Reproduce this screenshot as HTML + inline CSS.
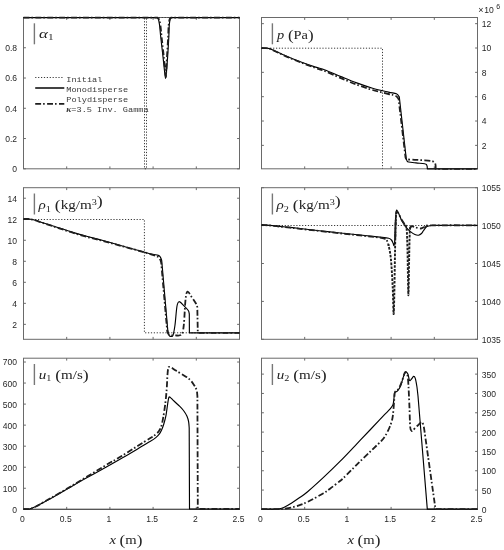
<!DOCTYPE html>
<html><head><meta charset="utf-8"><title>Figure</title><style>
html,body{margin:0;padding:0;background:#fff;}
svg{display:block;}
.tk{font-family:"Liberation Sans",Arial,sans-serif;font-size:9.9px;fill:#262626;}
.lb{font-family:"Liberation Serif","Times New Roman",serif;font-size:12px;fill:#222;}
.sub{font-size:8.4px;}
.par{font-size:14.6px;}
.lg{font-family:"Liberation Mono","Courier New",monospace;font-size:8.6px;fill:#3a3a3a;}
.kap{font-family:"Liberation Serif",serif;font-style:italic;font-weight:bold;font-size:9.5px;}
</style></head>
<body><svg width="504" height="550" viewBox="0 0 504 550">
<rect width="504" height="550" fill="#fff"/>
<rect x="23.5" y="17.5" width="216" height="151.3" fill="none" stroke="#6a6a6a" stroke-width="1"/>
<path d="M23.5 168.8v-2.4 M23.5 17.5v2.4 M66.7 168.8v-2.4 M66.7 17.5v2.4 M109.9 168.8v-2.4 M109.9 17.5v2.4 M153.1 168.8v-2.4 M153.1 17.5v2.4 M196.3 168.8v-2.4 M196.3 17.5v2.4 M239.5 168.8v-2.4 M239.5 17.5v2.4 M23.5 168.8h2.4 M239.5 168.8h-2.4 M23.5 138.54h2.4 M239.5 138.54h-2.4 M23.5 108.28h2.4 M239.5 108.28h-2.4 M23.5 78.02h2.4 M239.5 78.02h-2.4 M23.5 47.76h2.4 M239.5 47.76h-2.4" stroke="#6a6a6a" stroke-width="1" fill="none"/>
<rect x="261.5" y="17.5" width="216" height="151.3" fill="none" stroke="#6a6a6a" stroke-width="1"/>
<path d="M261.5 168.8v-2.4 M261.5 17.5v2.4 M304.7 168.8v-2.4 M304.7 17.5v2.4 M347.9 168.8v-2.4 M347.9 17.5v2.4 M391.1 168.8v-2.4 M391.1 17.5v2.4 M434.3 168.8v-2.4 M434.3 17.5v2.4 M477.5 168.8v-2.4 M477.5 17.5v2.4 M261.5 145.36h2.4 M477.5 145.36h-2.4 M261.5 121.02h2.4 M477.5 121.02h-2.4 M261.5 96.68h2.4 M477.5 96.68h-2.4 M261.5 72.34h2.4 M477.5 72.34h-2.4 M261.5 48h2.4 M477.5 48h-2.4 M261.5 23.66h2.4 M477.5 23.66h-2.4" stroke="#6a6a6a" stroke-width="1" fill="none"/>
<rect x="23.5" y="187.7" width="216" height="151.6" fill="none" stroke="#6a6a6a" stroke-width="1"/>
<path d="M23.5 339.3v-2.4 M23.5 187.7v2.4 M66.7 339.3v-2.4 M66.7 187.7v2.4 M109.9 339.3v-2.4 M109.9 187.7v2.4 M153.1 339.3v-2.4 M153.1 187.7v2.4 M196.3 339.3v-2.4 M196.3 187.7v2.4 M239.5 339.3v-2.4 M239.5 187.7v2.4 M23.5 324.35h2.4 M239.5 324.35h-2.4 M23.5 303.33h2.4 M239.5 303.33h-2.4 M23.5 282.31h2.4 M239.5 282.31h-2.4 M23.5 261.29h2.4 M239.5 261.29h-2.4 M23.5 240.27h2.4 M239.5 240.27h-2.4 M23.5 219.25h2.4 M239.5 219.25h-2.4 M23.5 198.23h2.4 M239.5 198.23h-2.4" stroke="#6a6a6a" stroke-width="1" fill="none"/>
<rect x="261.5" y="187.7" width="216" height="151.6" fill="none" stroke="#6a6a6a" stroke-width="1"/>
<path d="M261.5 339.3v-2.4 M261.5 187.7v2.4 M304.7 339.3v-2.4 M304.7 187.7v2.4 M347.9 339.3v-2.4 M347.9 187.7v2.4 M391.1 339.3v-2.4 M391.1 187.7v2.4 M434.3 339.3v-2.4 M434.3 187.7v2.4 M477.5 339.3v-2.4 M477.5 187.7v2.4 M261.5 339.3h2.4 M477.5 339.3h-2.4 M261.5 301.4h2.4 M477.5 301.4h-2.4 M261.5 263.5h2.4 M477.5 263.5h-2.4 M261.5 225.6h2.4 M477.5 225.6h-2.4 M261.5 187.7h2.4 M477.5 187.7h-2.4" stroke="#6a6a6a" stroke-width="1" fill="none"/>
<rect x="23.5" y="358.2" width="216" height="151.1" fill="none" stroke="#6a6a6a" stroke-width="1"/>
<path d="M23.5 509.3v-2.4 M23.5 358.2v2.4 M66.7 509.3v-2.4 M66.7 358.2v2.4 M109.9 509.3v-2.4 M109.9 358.2v2.4 M153.1 509.3v-2.4 M153.1 358.2v2.4 M196.3 509.3v-2.4 M196.3 358.2v2.4 M239.5 509.3v-2.4 M239.5 358.2v2.4 M23.5 509.3h2.4 M239.5 509.3h-2.4 M23.5 488.26h2.4 M239.5 488.26h-2.4 M23.5 467.22h2.4 M239.5 467.22h-2.4 M23.5 446.18h2.4 M239.5 446.18h-2.4 M23.5 425.14h2.4 M239.5 425.14h-2.4 M23.5 404.1h2.4 M239.5 404.1h-2.4 M23.5 383.06h2.4 M239.5 383.06h-2.4 M23.5 362.02h2.4 M239.5 362.02h-2.4" stroke="#6a6a6a" stroke-width="1" fill="none"/>
<rect x="261.5" y="358.2" width="216" height="151.1" fill="none" stroke="#6a6a6a" stroke-width="1"/>
<path d="M261.5 509.3v-2.4 M261.5 358.2v2.4 M304.7 509.3v-2.4 M304.7 358.2v2.4 M347.9 509.3v-2.4 M347.9 358.2v2.4 M391.1 509.3v-2.4 M391.1 358.2v2.4 M434.3 509.3v-2.4 M434.3 358.2v2.4 M477.5 509.3v-2.4 M477.5 358.2v2.4 M261.5 509.4h2.4 M477.5 509.4h-2.4 M261.5 490.07h2.4 M477.5 490.07h-2.4 M261.5 470.75h2.4 M477.5 470.75h-2.4 M261.5 451.42h2.4 M477.5 451.42h-2.4 M261.5 432.1h2.4 M477.5 432.1h-2.4 M261.5 412.77h2.4 M477.5 412.77h-2.4 M261.5 393.45h2.4 M477.5 393.45h-2.4 M261.5 374.12h2.4 M477.5 374.12h-2.4" stroke="#6a6a6a" stroke-width="1" fill="none"/>
<path d="M23.5 17.5 L144.5 17.5 L144.5 168.8 L146.5 168.8 L146.5 17.5 L239.5 17.5" fill="none" stroke="#3a3a3a" stroke-width="1" stroke-dasharray="1.2 1.7"/>
<path d="M23.5 17.65 L156.5 17.65 L156.5 17.65 C156.8 17.88 157.8 17.82 158.3 19 C158.8 20.18 159.08 21.62 159.5 24.7 C159.92 27.78 160.27 32.62 160.8 37.5 C161.33 42.38 162.07 48.28 162.7 54 C163.33 59.72 164.12 67.73 164.6 71.8 C165.08 75.87 165.28 78.4 165.6 78.4 C165.92 78.4 166.13 75.87 166.5 71.8 C166.87 67.73 167.42 59.72 167.8 54 C168.18 48.28 168.55 42.38 168.8 37.5 C169.05 32.62 169.03 27.88 169.3 24.7 C169.57 21.52 169.98 19.57 170.4 18.4 C170.82 17.22 171.57 17.77 171.8 17.65 L171.8 17.65 L239.5 17.65" fill="none" stroke="#000" stroke-width="1.15" stroke-linejoin="round"/>
<path d="M23.5 17.65 L157.4 17.65 L157.4 17.65 C157.7 17.96 158.7 18.27 159.2 19.5 C159.7 20.73 159.98 21.92 160.4 25 C160.82 28.08 161.17 33 161.7 38 C162.23 43 163 49.33 163.6 55 C164.2 60.67 164.92 68.33 165.3 72 C165.68 75.67 165.75 77 165.9 77 C166.05 77 166 75.67 166.2 72 C166.4 68.33 166.78 60.67 167.1 55 C167.42 49.33 167.83 43 168.1 38 C168.37 33 168.42 28.2 168.7 25 C168.98 21.8 169.35 20.03 169.8 18.8 C170.25 17.57 171.13 17.84 171.4 17.65 L171.4 17.65 L239.5 17.65" fill="none" stroke="#1e1e1e" stroke-width="1.8" stroke-dasharray="5.9 2 1.6 2.4"/>
<path d="M261.5 48.2 L382.5 48.2 L382.5 168.6" fill="none" stroke="#3a3a3a" stroke-width="1" stroke-dasharray="1.2 1.7"/>
<path d="M261.5 48.1 C262.33 48.12 265.13 48.12 266.5 48.2 C267.87 48.28 268.47 48.23 269.7 48.6 C270.93 48.97 270.88 49.05 273.9 50.4 C276.92 51.75 283.17 54.73 287.8 56.7 C292.43 58.67 297.07 60.47 301.7 62.2 C306.33 63.93 311.72 65.8 315.6 67.1 C319.48 68.4 320.78 68.42 325 70 C329.22 71.58 335.62 74.45 340.9 76.6 C346.18 78.75 351.42 80.97 356.7 82.9 C361.98 84.83 367.3 86.67 372.6 88.2 C377.9 89.73 384.53 91.17 388.5 92.1 C392.47 93.03 394.6 92.98 396.4 93.8 C398.2 94.62 398.82 96.47 399.3 97 L399.3 97 L406.2 158.3 L406.2 158.3 C406.33 158.72 406.6 160.18 407 160.8 C407.4 161.42 407.1 161.65 408.6 162 C410.1 162.35 413.33 162.62 416 162.9 C418.67 163.18 422.85 163.4 424.6 163.7 C426.35 164 426.07 164.23 426.5 164.7 C426.93 165.17 427.08 166.2 427.2 166.5 L427.2 166.5 L427.3 168.8 L477.5 168.8" fill="none" stroke="#000" stroke-width="1.15" stroke-linejoin="round"/>
<path d="M261.5 48.1 C262.33 48.12 265.13 48.1 266.5 48.2 C267.87 48.3 268.47 48.3 269.7 48.7 C270.93 49.1 270.88 49.2 273.9 50.6 C276.92 52 283.17 55.07 287.8 57.1 C292.43 59.13 297.07 60.98 301.7 62.8 C306.33 64.62 311.72 66.62 315.6 68 C319.48 69.38 320.78 69.42 325 71.1 C329.22 72.78 335.62 75.85 340.9 78.1 C346.18 80.35 351.42 82.62 356.7 84.6 C361.98 86.58 367.3 88.43 372.6 90 C377.9 91.57 384.68 93.05 388.5 94 C392.32 94.95 393.82 94.87 395.5 95.7 C397.18 96.53 398.08 98.45 398.6 99 L398.6 99 L405.5 157.3 L405.5 157.3 C405.73 157.63 405.35 158.88 406.9 159.3 C408.45 159.72 411.82 159.63 414.8 159.8 C417.78 159.97 421.82 160.05 424.8 160.3 C427.78 160.55 431 160.85 432.7 161.3 C434.4 161.75 434.52 162.3 435 163 C435.48 163.7 435.5 165.08 435.6 165.5 L435.6 165.5 L435.7 168.8 L477.5 168.8" fill="none" stroke="#1e1e1e" stroke-width="1.8" stroke-dasharray="5.9 2 1.6 2.4"/>
<path d="M23.5 219.5 L144.4 219.5 L144.4 332.8 L239.5 332.8" fill="none" stroke="#3a3a3a" stroke-width="1" stroke-dasharray="1.2 1.7"/>
<path d="M23.5 219 C24.25 219 26.75 218.95 28 219 C29.25 219.05 29.72 219.07 31 219.3 C32.28 219.53 33.87 219.87 35.7 220.4 C37.53 220.93 38.83 221.48 42 222.5 C45.17 223.52 49.93 224.98 54.7 226.5 C59.47 228.02 65.3 229.97 70.6 231.6 C75.9 233.23 81.1 234.82 86.5 236.3 C91.9 237.78 95.75 238.52 103 240.5 C110.25 242.48 122.17 246 130 248.2 C137.83 250.4 145.28 252.5 150 253.7 C154.72 254.9 156.53 254.75 158.3 255.4 C160.07 256.05 160.03 256.73 160.6 257.6 C161.17 258.47 161.52 260.1 161.7 260.6 L161.7 260.6 L167.8 330.5 L167.8 330.5 C168.03 331.33 168.7 334.52 169.2 335.5 C169.7 336.48 170.17 336.45 170.8 336.4 C171.43 336.35 172.3 337.1 173 335.2 C173.7 333.3 174.33 329.87 175 325 C175.67 320.13 176.3 309.88 177 306 C177.7 302.12 178.03 301.73 179.2 301.7 C180.37 301.67 182.48 304.33 184 305.8 C185.52 307.27 187.42 309.13 188.3 310.5 C189.18 311.87 189.13 313.42 189.3 314 L189.3 314 L189.4 332.8 L239.5 332.8" fill="none" stroke="#000" stroke-width="1.15" stroke-linejoin="round"/>
<path d="M23.5 219 C24.25 219 26.75 218.95 28 219 C29.25 219.05 29.72 219.05 31 219.3 C32.28 219.55 33.87 219.93 35.7 220.5 C37.53 221.07 38.83 221.65 42 222.7 C45.17 223.75 49.93 225.25 54.7 226.8 C59.47 228.35 65.3 230.33 70.6 232 C75.9 233.67 81.1 235.3 86.5 236.8 C91.9 238.3 95.75 239.08 103 241 C110.25 242.92 122.17 246.13 130 248.3 C137.83 250.47 145.33 252.58 150 254 C154.67 255.42 156.3 255.88 158 256.8 C159.7 257.72 159.67 258.53 160.2 259.5 C160.73 260.47 161.03 262.08 161.2 262.6 L161.2 262.6 L167.2 331 L167.2 331 C167.5 331.63 167.7 334.07 169 334.8 C170.3 335.53 172.92 335.45 175 335.4 C177.08 335.35 180.03 336.23 181.5 334.5 C182.97 332.77 183.13 330.75 183.8 325 C184.47 319.25 184.88 305.55 185.5 300 C186.12 294.45 186.42 292.12 187.5 291.7 C188.58 291.28 190.62 295.58 192 297.5 C193.38 299.42 194.92 301.62 195.8 303.2 C196.68 304.78 197.05 306.37 197.3 307 L197.3 307 L197.8 332.8 L239.5 332.8" fill="none" stroke="#1e1e1e" stroke-width="1.8" stroke-dasharray="5.9 2 1.6 2.4"/>
<path d="M261.5 225.5 L477.5 225.5" fill="none" stroke="#3a3a3a" stroke-width="1" stroke-dasharray="1.2 1.7"/>
<path d="M261.5 225 C262.08 225.02 263.58 225.03 265 225.1 C266.42 225.17 267.5 225.18 270 225.4 C272.5 225.62 276.67 226.07 280 226.4 C283.33 226.73 286.67 227.05 290 227.4 C293.33 227.75 293.33 227.75 300 228.5 C306.67 229.25 320 230.82 330 231.9 C340 232.98 351.67 234.13 360 235 C368.33 235.87 375.22 236.55 380 237.1 C384.78 237.65 386.78 237.82 388.7 238.3 C390.62 238.78 390.75 239.13 391.5 240 C392.25 240.87 392.78 242.58 393.2 243.5 C393.62 244.42 393.73 246.08 394 245.5 C394.27 244.92 394.57 243.92 394.8 240 C395.03 236.08 395.13 226.87 395.4 222 C395.67 217.13 396 212.47 396.4 210.8 C396.8 209.13 397.27 211.22 397.8 212 C398.33 212.78 398.93 214.05 399.6 215.5 C400.27 216.95 400.7 218.73 401.8 220.7 C402.9 222.67 404.75 225.48 406.2 227.3 C407.65 229.12 409.05 230.4 410.5 231.6 C411.95 232.8 413.57 233.9 414.9 234.5 C416.23 235.1 417.4 235.37 418.5 235.2 C419.6 235.03 420.65 234.28 421.5 233.5 C422.35 232.72 422.7 231.67 423.6 230.5 C424.5 229.33 425.43 227.35 426.9 226.5 C428.37 225.65 430.22 225.6 432.4 225.4 C434.58 225.2 432.48 225.32 440 225.3 C447.52 225.28 471.25 225.3 477.5 225.3" fill="none" stroke="#000" stroke-width="1.15" stroke-linejoin="round"/>
<path d="M261.5 225 C262.08 225.02 263.58 225.02 265 225.1 C266.42 225.18 267.5 225.25 270 225.5 C272.5 225.75 276.67 226.23 280 226.6 C283.33 226.97 286.67 227.33 290 227.7 C293.33 228.07 293.33 228.05 300 228.8 C306.67 229.55 320 231.1 330 232.2 C340 233.3 351.67 234.5 360 235.4 C368.33 236.3 375.92 237.05 380 237.6 C384.08 238.15 383.4 238.33 384.5 238.7 C385.6 239.07 385.9 238.62 386.6 239.8 C387.3 240.98 388.35 244.8 388.7 245.8" fill="none" stroke="#1e1e1e" stroke-width="1.8" stroke-dasharray="5.9 2 1.6 2.4"/>
<path d="M388 243.5 C388.12 243.88 388.22 243.23 388.7 245.8 C389.18 248.37 390.23 251.98 390.9 258.9 C391.57 265.82 392.25 278.12 392.7 287.3 C393.15 296.48 393.33 312.72 393.6 314 C393.87 315.28 394.1 303.17 394.3 295 C394.5 286.83 394.63 274.5 394.8 265 C394.97 255.5 395.1 246.33 395.3 238 C395.5 229.67 395.88 218.83 396 215" fill="none" stroke="#1e1e1e" stroke-width="1.9" stroke-dasharray="2.6 1.3"/>
<path d="M395.3 238 C395.42 234.17 395.72 219.42 396 215 C396.28 210.58 396.58 211.75 397 211.5 C397.42 211.25 397.75 212.17 398.5 213.5 C399.25 214.83 400.42 217.58 401.5 219.5 C402.58 221.42 404.15 223.5 405 225 C405.85 226.5 406.33 227.92 406.6 228.5" fill="none" stroke="#1e1e1e" stroke-width="1.8" stroke-dasharray="5.9 2 1.6 2.4"/>
<path d="M405 225 C405.27 225.58 406.18 224.33 406.6 228.5 C407.02 232.67 407.27 241.42 407.5 250 C407.73 258.58 407.85 272.45 408 280 C408.15 287.55 408.27 295.3 408.4 295.3 C408.53 295.3 408.65 287.55 408.8 280 C408.95 272.45 409.1 258.5 409.3 250 C409.5 241.5 409.63 232.97 410 229 C410.37 225.03 411.25 226.67 411.5 226.2" fill="none" stroke="#1e1e1e" stroke-width="1.9" stroke-dasharray="2.6 1.3"/>
<path d="M410 229 C410.25 228.53 410.5 226.45 411.5 226.2 C412.5 225.95 414.42 227.12 416 227.5 C417.58 227.88 419.5 228.65 421 228.5 C422.5 228.35 423.5 227.12 425 226.6 C426.5 226.08 421.25 225.62 430 225.4 C438.75 225.18 469.58 225.32 477.5 225.3" fill="none" stroke="#1e1e1e" stroke-width="1.8" stroke-dasharray="5.9 2 1.6 2.4"/>
<path d="M23.5 509.3H239.5" stroke="#4a4a4a" stroke-width="1"/>
<path d="M23.5 509 C24.5 509 27.43 509.4 29.5 509 C31.57 508.6 33.52 507.72 35.9 506.6 C38.28 505.48 41.17 503.75 43.8 502.3 C46.43 500.85 47.73 500.15 51.7 497.9 C55.67 495.65 62.3 491.85 67.6 488.8 C72.9 485.75 77.12 483.18 83.5 479.6 C89.88 476.02 99.53 470.85 105.9 467.3 C112.27 463.75 116.42 461.37 121.7 458.3 C126.98 455.23 132.88 451.7 137.6 448.9 C142.32 446.1 146.97 443.38 150 441.5 C153.03 439.62 154.27 438.82 155.8 437.6 C157.33 436.38 158.23 435.47 159.2 434.2 C160.17 432.93 160.83 431.7 161.6 430 C162.37 428.3 163.07 426.45 163.8 424 C164.53 421.55 165.35 418.7 166 415.3 C166.65 411.9 167.22 406.6 167.7 403.6 C168.18 400.6 168.43 398.3 168.9 397.3 C169.37 396.3 169.77 397.08 170.5 397.6 C171.23 398.12 171.75 398.93 173.3 400.4 C174.85 401.87 178.1 404.72 179.8 406.4 C181.5 408.08 182.3 408.87 183.5 410.5 C184.7 412.13 186.15 414.33 187 416.2 C187.85 418.07 188.23 419.73 188.6 421.7 C188.97 423.67 189.1 426.95 189.2 428 L189.2 428 L189.5 509 L239.5 509" fill="none" stroke="#000" stroke-width="1.15" stroke-linejoin="round"/>
<path d="M23.5 509 C24.5 509 27.43 509.42 29.5 509 C31.57 508.58 33.52 507.67 35.9 506.5 C38.28 505.33 41.17 503.48 43.8 502 C46.43 500.52 47.73 499.88 51.7 497.6 C55.67 495.32 62.3 491.43 67.6 488.3 C72.9 485.17 77.12 482.65 83.5 478.8 C89.88 474.95 99.53 469 105.9 465.2 C112.27 461.4 116.42 459.2 121.7 456 C126.98 452.8 132.88 448.95 137.6 446 C142.32 443.05 147.02 440.2 150 438.3 C152.98 436.4 154.03 435.77 155.5 434.6 C156.97 433.43 157.85 432.65 158.8 431.3 C159.75 429.95 160.48 428.68 161.2 426.5 C161.92 424.32 162.42 422.02 163.1 418.2 C163.78 414.38 164.7 408.45 165.3 403.6 C165.9 398.75 166.33 393.95 166.7 389.1 C167.07 384.25 167.22 378.08 167.5 374.5 C167.78 370.92 167.98 368.87 168.4 367.6 C168.82 366.33 169.43 366.87 170 366.9 C170.57 366.93 170.82 367.18 171.8 367.8 C172.78 368.42 174.37 369.63 175.9 370.6 C177.43 371.57 179.18 372.5 181 373.6 C182.82 374.7 185.22 376.07 186.8 377.2 C188.38 378.33 189.42 379.28 190.5 380.4 C191.58 381.52 192.48 382.75 193.3 383.9 C194.12 385.05 194.82 386.15 195.4 387.3 C195.98 388.45 196.47 389.35 196.8 390.8 C197.13 392.25 197.3 395.13 197.4 396 L197.4 396 L197.8 509 L239.5 509" fill="none" stroke="#1e1e1e" stroke-width="1.8" stroke-dasharray="5.9 2 1.6 2.4"/>
<path d="M261.5 509.3H477.5" stroke="#4a4a4a" stroke-width="1"/>
<path d="M261.5 509.1 C263.7 509.1 271.7 509.15 274.7 509.1 C277.7 509.05 277.98 509.08 279.5 508.8 C281.02 508.52 281.77 508.38 283.8 507.4 C285.83 506.42 289.05 504.55 291.7 502.9 C294.35 501.25 297.05 499.37 299.7 497.5 C302.35 495.63 303.63 495.05 307.6 491.7 C311.57 488.35 318.1 482.45 323.5 477.4 C328.9 472.35 334.75 466.67 340 461.4 C345.25 456.13 350 451.03 355 445.8 C360 440.57 365.95 434.27 370 430 C374.05 425.73 376.8 422.83 379.3 420.2 C381.8 417.57 383.23 416.05 385 414.2 C386.77 412.35 388.57 410.7 389.9 409.1 C391.23 407.5 392.32 406.45 393 404.6 C393.68 402.75 393.73 399.97 394 398 C394.27 396.03 394.05 393.93 394.6 392.8 C395.15 391.67 396.32 392.28 397.3 391.2 C398.28 390.12 399.55 388.48 400.5 386.3 C401.45 384.12 402.18 380.42 403 378.1 C403.82 375.78 404.58 373.08 405.4 372.4 C406.22 371.72 407.22 372.65 407.9 374 C408.58 375.35 408.9 379.67 409.5 380.5 C410.1 381.33 410.82 379.68 411.5 379 C412.18 378.32 412.98 376.55 413.6 376.4 C414.22 376.25 414.67 376.5 415.2 378.1 C415.73 379.7 416.33 383.02 416.8 386 C417.27 388.98 417.8 394.33 418 396 L418 396 L427.3 509.1 L477.5 509.1" fill="none" stroke="#000" stroke-width="1.15" stroke-linejoin="round"/>
<path d="M261.5 509.1 C264.25 509.1 274.55 509.13 278 509.1 C281.45 509.07 279.92 509.18 282.2 508.9 C284.48 508.62 288.78 508.03 291.7 507.4 C294.62 506.77 297.05 506.02 299.7 505.1 C302.35 504.18 303.63 503.88 307.6 501.9 C311.57 499.92 319.77 495.4 323.5 493.2 C327.23 491 327.25 490.73 330 488.7 C332.75 486.67 337.68 482.85 340 481 C342.32 479.15 340.93 480.5 343.9 477.6 C346.87 474.7 353.17 468.17 357.8 463.6 C362.43 459.03 367.77 454 371.7 450.2 C375.63 446.4 379.08 443.28 381.4 440.8 C383.72 438.32 384.22 437.6 385.6 435.3 C386.98 433 388.58 429.72 389.7 427 C390.82 424.28 391.68 421.83 392.3 419 C392.92 416.17 393.07 413.33 393.4 410 C393.73 406.67 394.03 402 394.3 399 C394.57 396 394.37 393.58 395 392 C395.63 390.42 397.05 391 398.1 389.5 C399.15 388 400.22 385.72 401.3 383 C402.38 380.28 403.77 374.97 404.6 373.2 C405.43 371.43 405.77 371.77 406.3 372.4 C406.83 373.03 407.42 374.4 407.8 377 C408.18 379.6 408.47 386.17 408.6 388 L408.6 388 C408.73 390.98 409.13 399.4 409.4 405.9 C409.67 412.4 409.85 422.88 410.2 427 C410.55 431.12 411.07 430.03 411.5 430.6 C411.93 431.17 411.77 431.25 412.8 430.4 C413.83 429.55 416.2 426.87 417.7 425.5 C419.2 424.13 420.82 422.12 421.8 422.2 C422.78 422.28 423.13 424.37 423.6 426 C424.07 427.63 424.43 431 424.6 432 L424.6 432 L435.5 509.1 L477.5 509.1" fill="none" stroke="#1e1e1e" stroke-width="1.8" stroke-dasharray="5.9 2 1.6 2.4"/>
<text class="tk" transform="translate(17.1 172.25) scale(0.865 1)" text-anchor="end">0</text>
<text class="tk" transform="translate(17.1 141.99) scale(0.865 1)" text-anchor="end">0.2</text>
<text class="tk" transform="translate(17.1 111.73) scale(0.865 1)" text-anchor="end">0.4</text>
<text class="tk" transform="translate(17.1 81.47) scale(0.865 1)" text-anchor="end">0.6</text>
<text class="tk" transform="translate(17.1 51.21) scale(0.865 1)" text-anchor="end">0.8</text>
<text class="tk" transform="translate(481.7 148.81) scale(0.865 1)">2</text>
<text class="tk" transform="translate(481.7 124.47) scale(0.865 1)">4</text>
<text class="tk" transform="translate(481.7 100.13) scale(0.865 1)">6</text>
<text class="tk" transform="translate(481.7 75.79) scale(0.865 1)">8</text>
<text class="tk" transform="translate(481.7 51.45) scale(0.865 1)">10</text>
<text class="tk" transform="translate(481.7 27.11) scale(0.865 1)">12</text>
<text class="tk" transform="translate(17.1 327.8) scale(0.865 1)" text-anchor="end">2</text>
<text class="tk" transform="translate(17.1 306.78) scale(0.865 1)" text-anchor="end">4</text>
<text class="tk" transform="translate(17.1 285.76) scale(0.865 1)" text-anchor="end">6</text>
<text class="tk" transform="translate(17.1 264.74) scale(0.865 1)" text-anchor="end">8</text>
<text class="tk" transform="translate(17.1 243.72) scale(0.865 1)" text-anchor="end">10</text>
<text class="tk" transform="translate(17.1 222.7) scale(0.865 1)" text-anchor="end">12</text>
<text class="tk" transform="translate(17.1 201.68) scale(0.865 1)" text-anchor="end">14</text>
<text class="tk" transform="translate(481.7 342.75) scale(0.865 1)">1035</text>
<text class="tk" transform="translate(481.7 304.85) scale(0.865 1)">1040</text>
<text class="tk" transform="translate(481.7 266.95) scale(0.865 1)">1045</text>
<text class="tk" transform="translate(481.7 229.05) scale(0.865 1)">1050</text>
<text class="tk" transform="translate(481.7 191.15) scale(0.865 1)">1055</text>
<text class="tk" transform="translate(17.1 512.75) scale(0.865 1)" text-anchor="end">0</text>
<text class="tk" transform="translate(17.1 491.71) scale(0.865 1)" text-anchor="end">100</text>
<text class="tk" transform="translate(17.1 470.67) scale(0.865 1)" text-anchor="end">200</text>
<text class="tk" transform="translate(17.1 449.63) scale(0.865 1)" text-anchor="end">300</text>
<text class="tk" transform="translate(17.1 428.59) scale(0.865 1)" text-anchor="end">400</text>
<text class="tk" transform="translate(17.1 407.55) scale(0.865 1)" text-anchor="end">500</text>
<text class="tk" transform="translate(17.1 386.51) scale(0.865 1)" text-anchor="end">600</text>
<text class="tk" transform="translate(17.1 365.47) scale(0.865 1)" text-anchor="end">700</text>
<text class="tk" transform="translate(22.5 522.2) scale(0.865 1)" text-anchor="middle">0</text>
<text class="tk" transform="translate(65.7 522.2) scale(0.865 1)" text-anchor="middle">0.5</text>
<text class="tk" transform="translate(108.9 522.2) scale(0.865 1)" text-anchor="middle">1</text>
<text class="tk" transform="translate(152.1 522.2) scale(0.865 1)" text-anchor="middle">1.5</text>
<text class="tk" transform="translate(195.3 522.2) scale(0.865 1)" text-anchor="middle">2</text>
<text class="tk" transform="translate(238.5 522.2) scale(0.865 1)" text-anchor="middle">2.5</text>
<text class="tk" transform="translate(481.7 512.85) scale(0.865 1)">0</text>
<text class="tk" transform="translate(481.7 493.52) scale(0.865 1)">50</text>
<text class="tk" transform="translate(481.7 474.2) scale(0.865 1)">100</text>
<text class="tk" transform="translate(481.7 454.87) scale(0.865 1)">150</text>
<text class="tk" transform="translate(481.7 435.55) scale(0.865 1)">200</text>
<text class="tk" transform="translate(481.7 416.22) scale(0.865 1)">250</text>
<text class="tk" transform="translate(481.7 396.9) scale(0.865 1)">300</text>
<text class="tk" transform="translate(481.7 377.57) scale(0.865 1)">350</text>
<text class="tk" transform="translate(260.5 522.2) scale(0.865 1)" text-anchor="middle">0</text>
<text class="tk" transform="translate(303.7 522.2) scale(0.865 1)" text-anchor="middle">0.5</text>
<text class="tk" transform="translate(346.9 522.2) scale(0.865 1)" text-anchor="middle">1</text>
<text class="tk" transform="translate(390.1 522.2) scale(0.865 1)" text-anchor="middle">1.5</text>
<text class="tk" transform="translate(433.3 522.2) scale(0.865 1)" text-anchor="middle">2</text>
<text class="tk" transform="translate(476.5 522.2) scale(0.865 1)" text-anchor="middle">2.5</text>
<text class="tk" x="478.2" y="12.6" style="font-size:9px">&#215;</text>
<text class="tk" transform="translate(484.3 12.8) scale(0.865 1)">10</text>
<text class="tk" x="496.2" y="8.7" style="font-size:7px">6</text>
<text class="lb" x="109.4" y="544.4" textLength="33" lengthAdjust="spacingAndGlyphs" style="font-size:12.4px"><tspan font-style="italic">x</tspan> <tspan class="par" dy="0.9">(</tspan><tspan dy="-0.9">m</tspan><tspan class="par" dy="0.9">)</tspan></text>
<text class="lb" x="347.4" y="544.4" textLength="33" lengthAdjust="spacingAndGlyphs" style="font-size:12.4px"><tspan font-style="italic">x</tspan> <tspan class="par" dy="0.9">(</tspan><tspan dy="-0.9">m</tspan><tspan class="par" dy="0.9">)</tspan></text>
<path d="M34.4 23.3v21" stroke="#777" stroke-width="1.4"/>
<text class="lb" x="39" y="37.8" textLength="14.6" lengthAdjust="spacingAndGlyphs" style="font-size:12.6px"><tspan font-style="italic">&#945;</tspan><tspan class="sub" dy="1.8">1</tspan></text>
<path d="M272.4 23.3v21" stroke="#777" stroke-width="1.4"/>
<text class="lb" x="277.1" y="38.8" textLength="36.5" lengthAdjust="spacingAndGlyphs" style="font-size:12.4px"><tspan font-style="italic">p</tspan> <tspan class="par" dy="0.9">(</tspan><tspan dy="-0.9">Pa</tspan><tspan class="par" dy="0.9">)</tspan></text>
<path d="M34.4 193.5v21" stroke="#777" stroke-width="1.4"/>
<text class="lb" x="38.6" y="209.4" textLength="64.2" lengthAdjust="spacingAndGlyphs" style="font-size:12.4px"><tspan font-style="italic">&#961;</tspan><tspan class="sub" dy="2.2">1</tspan><tspan dy="-2.2"> </tspan><tspan class="par" dy="0.9">(</tspan><tspan dy="-0.9">kg/m</tspan><tspan class="sub" dy="-4.6">3</tspan><tspan dy="4.6"></tspan><tspan class="par" dy="0.9">)</tspan></text>
<path d="M272.4 193.5v21" stroke="#777" stroke-width="1.4"/>
<text class="lb" x="276.6" y="209.4" textLength="64.2" lengthAdjust="spacingAndGlyphs" style="font-size:12.4px"><tspan font-style="italic">&#961;</tspan><tspan class="sub" dy="2.2">2</tspan><tspan dy="-2.2"> </tspan><tspan class="par" dy="0.9">(</tspan><tspan dy="-0.9">kg/m</tspan><tspan class="sub" dy="-4.6">3</tspan><tspan dy="4.6"></tspan><tspan class="par" dy="0.9">)</tspan></text>
<path d="M34.4 364v21" stroke="#777" stroke-width="1.4"/>
<text class="lb" x="38.8" y="378.9" textLength="50" lengthAdjust="spacingAndGlyphs" style="font-size:12.4px"><tspan font-style="italic">u</tspan><tspan class="sub" dy="2.2">1</tspan><tspan dy="-2.2"> </tspan><tspan class="par" dy="0.9">(</tspan><tspan dy="-0.9">m/s</tspan><tspan class="par" dy="0.9">)</tspan></text>
<path d="M272.4 364v21" stroke="#777" stroke-width="1.4"/>
<text class="lb" x="276.8" y="378.9" textLength="50" lengthAdjust="spacingAndGlyphs" style="font-size:12.4px"><tspan font-style="italic">u</tspan><tspan class="sub" dy="2.2">2</tspan><tspan dy="-2.2"> </tspan><tspan class="par" dy="0.9">(</tspan><tspan dy="-0.9">m/s</tspan><tspan class="par" dy="0.9">)</tspan></text>
<path d="M35.2 77.5H62.8" fill="none" stroke="#3a3a3a" stroke-width="1" stroke-dasharray="1.2 1.7"/>
<path d="M35.2 88H64.3" fill="none" stroke="#222" stroke-width="1.7"/>
<path d="M35.2 103.8H64.3" fill="none" stroke="#1e1e1e" stroke-width="1.8" stroke-dasharray="5.9 2 1.6 2.4"/>
<text class="lg" transform="translate(66.3 81.5) scale(1 0.92)">Initial</text>
<text class="lg" transform="translate(66.3 91.6) scale(1 0.92)">Monodisperse</text>
<text class="lg" transform="translate(66.3 101.9) scale(1 0.92)">Polydisperse</text>
<text class="lg" transform="translate(66.3 112.4) scale(1 0.92)"><tspan class="kap">&#954;</tspan>=3.5 Inv. Gamma</text>
</svg></body></html>
